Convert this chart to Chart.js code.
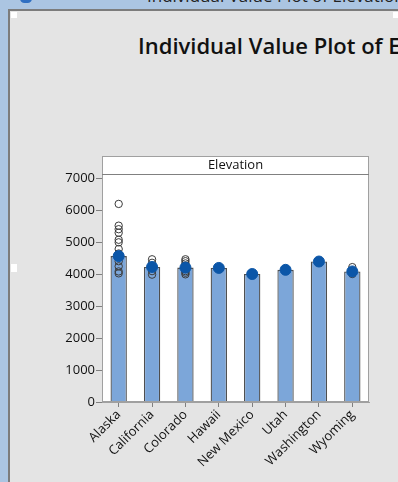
<!DOCTYPE html>
<html>
<head>
<meta charset="utf-8">
<script src="https://cdn.jsdelivr.net/npm/chart.js@4/dist/chart.umd.min.js"></script>
<style>
  body { margin: 0; width: 398px; height: 482px; overflow: hidden; position: relative; background: #abc5e2; font-family: "Open Sans", sans-serif; }
  #winTitle { position: absolute; left: 147px; top: -16px; font-size: 17px; color: #222; white-space: nowrap; }
  #icon { position: absolute; left: 20px; top: -6px; width: 12px; height: 9px; border-radius: 5px; background: #2f6fc2; }
  #panel { position: absolute; left: 8px; top: 9px; right: -10px; bottom: -10px; background: #e4e4e4; border-left: 2px solid #7c7c7c; border-top: 2px solid #7c7c7c; }
  .handle { position: absolute; background: #fff; }
  #title { position: absolute; left: 138px; top: 30px; font-size: 22px; font-weight: 600; color: #111; white-space: nowrap; }
  #show_chart { position: absolute; left: 0; top: 0; }
</style>
</head>
<body>
<div id="icon"></div>
<div id="winTitle">Individual Value Plot of Elevation</div>
<div id="panel"></div>
<div class="handle" style="left:11px;top:12px;width:6px;height:6px"></div>
<div class="handle" style="left:393px;top:12px;width:6px;height:6px"></div>
<div class="handle" style="left:11px;top:264px;width:6px;height:8px"></div>
<div id="title">Individual Value Plot of Elevation</div>
<canvas id="show_chart" width="398" height="482"></canvas>
<script>
// categories and values
const states = ['Alaska', 'California', 'Colorado', 'Hawaii', 'New Mexico', 'Utah', 'Washington', 'Wyoming']
const meanElev = [4560, 4220, 4200, 4190, 4000, 4130, 4390, 4080]
const yTicks = [0, 1000, 2000, 3000, 4000, 5000, 6000, 7000]

// individual observations
const alaska = [6190, 5510, 5400, 5290, 5070, 4990, 4780, 4640, 4400, 4240, 4080, 4020]
const california = [4460, 4350, 4090, 3980]
const colorado = [4460, 4400, 4330, 4270, 4150, 4090, 4040, 3990]
const hawaii = [4190]
const newMexico = [4000]
const utah = [4130]
const washington = [4400]
const wyoming = [4215, 4060, 4000]

const perState = [alaska, california, colorado, hawaii, newMexico, utah, washington, wyoming]
const points = []
perState.forEach((vals, i) => {
    vals.forEach(v => points.push({ x: states[i], y: v }))
})

const fontFam = '"Open Sans", sans-serif'

// white plot background, frame and the "Elevation" strip
const panelPlugin = {
    id: 'panelStrip',
    beforeDatasetsDraw(chart) {
        const { ctx, chartArea: a } = chart
        ctx.save()
        ctx.fillStyle = '#ffffff'
        ctx.fillRect(a.left, a.top, a.right - a.left, a.bottom - a.top)
        ctx.restore()
    },
    afterDraw(chart) {
        const { ctx, chartArea: a } = chart
        ctx.save()
        ctx.strokeStyle = '#a0a0a0'
        ctx.lineWidth = 1
        ctx.strokeRect(a.left + 0.5, a.top + 0.5, a.right - a.left - 1, a.bottom - a.top - 1)
        // strip
        ctx.fillStyle = '#ffffff'
        ctx.fillRect(a.left, a.top - 18, a.right - a.left, 18)
        ctx.strokeRect(a.left + 0.5, a.top - 18 + 0.5, a.right - a.left - 1, 18)
        ctx.strokeStyle = '#808080'
        ctx.beginPath()
        ctx.moveTo(a.left, a.top + 0.5)
        ctx.lineTo(a.right, a.top + 0.5)
        ctx.stroke()
        ctx.fillStyle = '#111'
        ctx.font = '13px ' + fontFam
        ctx.textAlign = 'center'
        ctx.textBaseline = 'middle'
        ctx.fillText('Elevation', (a.left + a.right) / 2, a.top - 9)
        ctx.restore()
    }
}

new Chart(document.querySelector('#show_chart').getContext('2d'), {
    data: {
        labels: states,
        datasets: [
            {
                type: 'line',
                data: meanElev,
                showLine: false,
                pointRadius: 5.5,
                pointBackgroundColor: '#0b56a8',
                pointBorderColor: '#0b56a8',
                order: 0
            },
            {
                type: 'line',
                data: points,
                showLine: false,
                pointRadius: 3.7,
                pointBorderWidth: 1,
                pointBackgroundColor: 'rgba(255,255,255,0)',
                pointBorderColor: '#3c3c3c',
                order: 1
            },
            {
                type: 'bar',
                data: meanElev,
                backgroundColor: '#7ca6d9',
                borderColor: '#4f4f4f',
                borderWidth: 1.3,
                barPercentage: 0.49,
                categoryPercentage: 1,
                order: 2
            }
        ]
    },
    options: {
        responsive: false,
        animation: false,
        devicePixelRatio: 1,
        layout: { padding: { top: 174, left: 0, right: 29, bottom: 0 } },
        plugins: { legend: { display: false }, tooltip: { enabled: false } },
        scales: {
            x: {
                grid: { offset: false, drawOnChartArea: false, tickLength: 5, color: '#808080' },
                border: { color: '#a0a0a0' },
                ticks: { minRotation: 45, maxRotation: 45, padding: 0, color: '#111', font: { size: 13, family: fontFam } },
                afterFit: s => { s.height = 80 }
            },
            y: {
                min: 0,
                max: 7125,
                afterBuildTicks: s => { s.ticks = yTicks.map(v => ({ value: v })) },
                grid: { drawOnChartArea: false, tickLength: 6, color: '#808080' },
                border: { color: '#a0a0a0' },
                ticks: { padding: 1, color: '#111', font: { size: 13, family: fontFam }, callback: v => String(v) },
                afterFit: s => { s.width = 102 }
            }
        }
    },
    plugins: [panelPlugin]
})
</script>
</body>
</html>
